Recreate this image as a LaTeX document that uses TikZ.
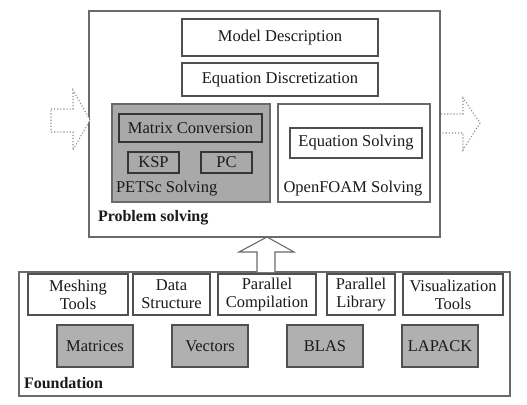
\documentclass[tikz,border=0pt]{standalone}
\usepackage{fontspec}
\setmainfont{Liberation Serif}
\usetikzlibrary{positioning}
\definecolor{bordergray}{HTML}{6A6A6A}
\definecolor{boxline}{HTML}{505050}
\definecolor{darkline}{HTML}{353535}
\definecolor{grayfill}{HTML}{A9A9A9}
\definecolor{grayfilltwo}{HTML}{B0B0B0}
\definecolor{txt}{HTML}{1A1A1A}
\definecolor{dotcol}{HTML}{8A8A8A}
\begin{document}
\begin{tikzpicture}[x=1pt,y=-1pt,
  every node/.style={font=\fontsize{16.5}{18}\selectfont, text=txt, inner sep=0pt, outer sep=0pt},
  frame/.style={draw=bordergray, line width=1.2pt, fill=white, rectangle},
  wbox/.style={draw=boxline, line width=1.1pt, fill=white, rectangle, align=center},
  gbox/.style={draw=darkline, line width=1.4pt, fill=grayfill, rectangle, align=center},
  fbox/.style={draw=boxline, line width=1.1pt, fill=grayfilltwo, rectangle, align=center},
  label/.style={anchor=west},
  blabel/.style={anchor=west, font=\fontsize{16}{18}\selectfont\bfseries},
  dotarrow/.style={draw=dotcol, line width=1.1pt, dotted, fill=white},
  blockarrow/.style={draw=bordergray, line width=1.1pt, fill=white}
]
\useasboundingbox (0,0) rectangle (527,404);
% Problem solving frame
\node[frame, minimum width=351pt, minimum height=226pt] (ps) at (264.5,124) {};
\node[wbox, minimum width=196pt, minimum height=37pt] (md) at (280,37.5) {Model Description};
\node[wbox, minimum width=196pt, minimum height=33pt] (ed) at (280,79.5) {Equation Discretization};
\node[draw=bordergray, line width=1.2pt, fill=grayfill, minimum width=158pt, minimum height=98pt] (petsc) at (191,153) {};
\node[gbox, minimum width=143pt, minimum height=28pt] (mc) at (190.5,128) {Matrix Conversion};
\node[gbox, minimum width=51pt, minimum height=21pt] (ksp) at (153.5,162.5) {KSP};
\node[gbox, minimum width=51pt, minimum height=21pt] (pc) at (226.5,162.5) {PC};
\node[label] (petscl) at (116,189) {PETSc Solving};
\node[draw=bordergray, line width=1.2pt, fill=white, minimum width=152pt, minimum height=98pt] (of) at (354,153) {};
\node[wbox, minimum width=132pt, minimum height=30pt] (es) at (356,143) {Equation Solving};
\node (ofl) at (353,189) {OpenFOAM Solving};
\node[blabel] (psl) at (98,218) {Problem solving};
% dotted arrows
\draw[dotarrow] (51,109) -- (73,109) -- (73,90) -- (90,120) -- (73,150) -- (73,132) -- (51,132) -- cycle;
\fill[white] (441,114) -- (463,114) -- (463,98) -- (480,123) -- (463,150) -- (463,133) -- (441,133) -- cycle;
\draw[dotarrow] (441,114) -- (463,114) -- (463,98) -- (480,123) -- (463,150) -- (463,133) -- (441,133);
% Foundation
\node[frame, minimum width=491pt, minimum height=124pt] (fd) at (264.5,334) {};
\node[wbox, minimum width=100pt, minimum height=41pt] (mt) at (78,294.5) {Meshing\\Tools};
\node[wbox, minimum width=77pt, minimum height=41pt] (ds) at (171.5,294.5) {Data\\Structure};
\node[wbox, minimum width=98pt, minimum height=41pt] (pcomp) at (267,294.5) {Parallel\\Compilation};
\node[wbox, minimum width=68pt, minimum height=41pt] (pl) at (361,294.5) {Parallel\\Library};
\node[wbox, minimum width=100pt, minimum height=41pt] (vt) at (453,294.5) {Visualization\\Tools};
\node[fbox, minimum width=76pt, minimum height=42pt] (mat) at (95,346) {Matrices};
\node[fbox, minimum width=76pt, minimum height=42pt] (vec) at (210,346) {Vectors};
\node[fbox, minimum width=76pt, minimum height=42pt] (blas) at (325,346) {BLAS};
\node[fbox, minimum width=76pt, minimum height=42pt] (lap) at (440,346) {LAPACK};
\node[blabel] (fdl) at (24,383) {Foundation};
% block arrow
\draw[blockarrow] (257,272) -- (257,252) -- (239,252) -- (267,237) -- (294,252) -- (275,252) -- (275,272);
\end{tikzpicture}
\end{document}
